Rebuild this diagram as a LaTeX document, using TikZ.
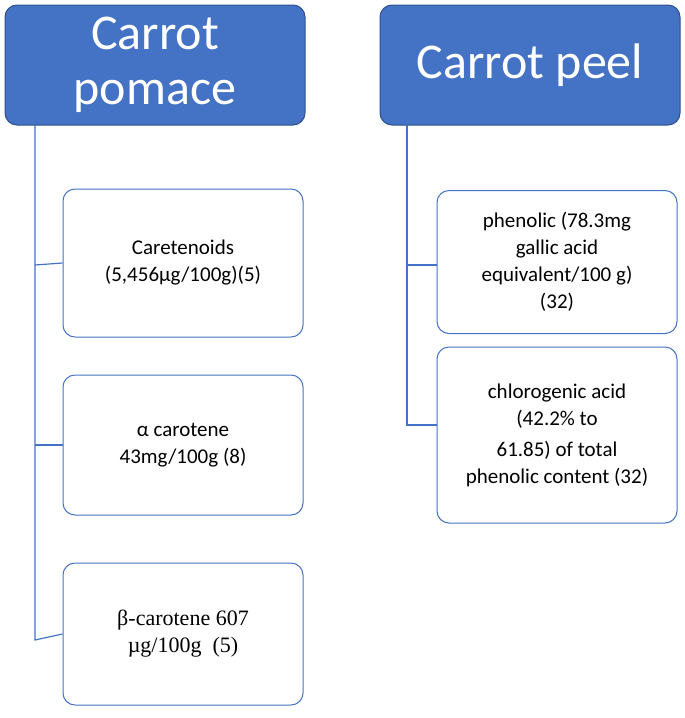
\documentclass[tikz,border=0pt]{standalone}
\usepackage{fontspec}
\setmainfont{Carlito}
\newfontfamily\serifx{Liberation Serif}
\definecolor{hb}{HTML}{4472C4}
\definecolor{hd}{HTML}{2F528F}
\begin{document}
\begin{tikzpicture}[x=1pt,y=-1pt,
 head/.style={draw=hd,line width=1pt,fill=hb,rounded corners=12pt,text=white,font=\fontsize{50}{55}\selectfont,align=center},
 kid/.style={draw=hb,line width=1pt,fill=white,rounded corners=12pt,font=\fontsize{21}{27}\selectfont,align=center},
 ln/.style={draw=hb,line width=1.2pt}]
\useasboundingbox (0,0) rectangle (685,718);
\node[head,minimum width=300pt,minimum height=120pt] (h1) at (155,65) {Carrot\\pomace};
\node[head,minimum width=300pt,minimum height=120pt] (h2) at (530,65) {Carrot peel};
\node[kid,minimum width=240pt,minimum height=148pt] (a1) at (183,263) {Caretenoids\\(5,456µg/100g)(5)};
\node[kid,minimum width=240pt,minimum height=140pt] (a2) at (183,445) {α carotene\\43mg/100g (8)};
\node[kid,minimum width=240pt,minimum height=142pt,font=\serifx\fontsize{22}{27}\selectfont] (a3) at (183,634) {β-carotene 607\\µg/100g\ \ (5)};
\node[kid,minimum width=240pt,minimum height=143pt] (b1) at (557,262) {phenolic (78.3mg\\gallic acid\\equivalent/100 g)\\(32)};
\node[kid,minimum width=240pt,minimum height=176pt] (b2) at (557,435) {chlorogenic acid\\(42.2\% to\\[4pt]61.85) of total\\phenolic content (32)};
\coordinate (l0) at (35,125);
\coordinate (l3) at (35,640);
\draw[ln] (l0) -- (l3) -- (a3.west);
\draw[ln] (35,265) -- (a1.west);
\draw[ln] (35,445) -- (a2.west);
\coordinate (r0) at (407,125);
\coordinate (r2) at (407,425);
\draw[ln] (r0) -- (r2) -- (b2.west|-r2);
\draw[ln] (407,265) -- (b1.west|-0,265);
\end{tikzpicture}
\end{document}
